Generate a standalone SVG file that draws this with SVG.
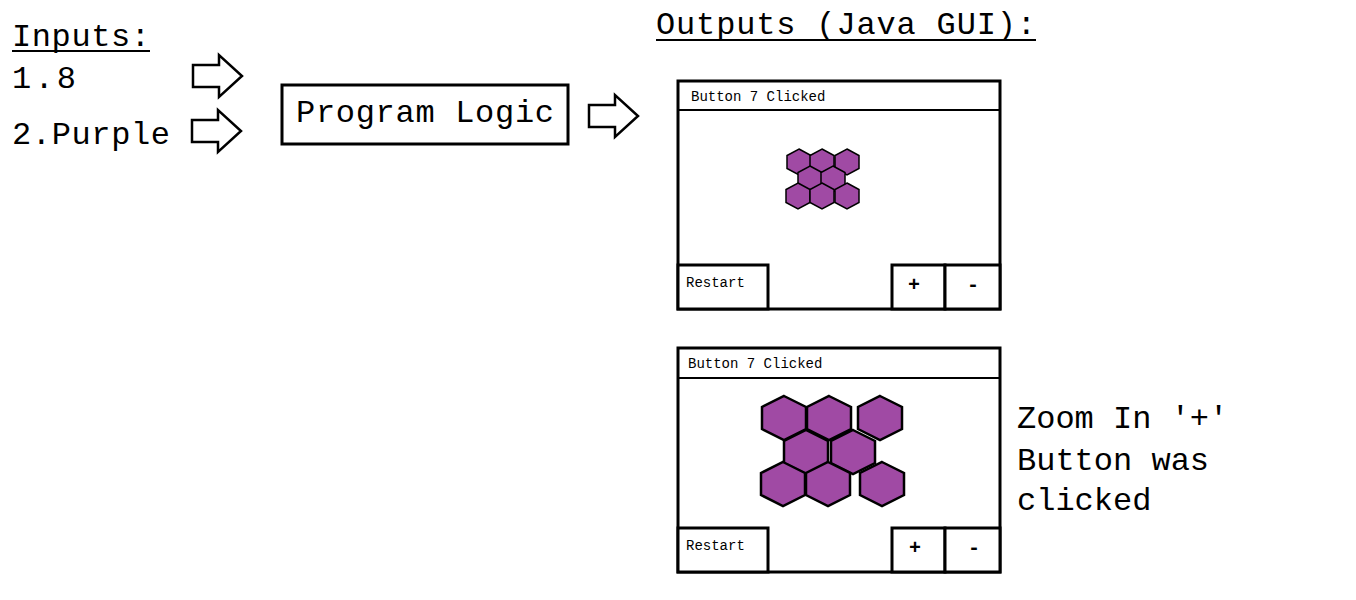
<svg xmlns="http://www.w3.org/2000/svg" width="1356" height="600" viewBox="0 0 1356 600">
<style>
text{font-family:"Liberation Mono","DejaVu Sans Mono",monospace;fill:#000}
.big{font-size:32px}
.sm{font-size:14px}
.box{fill:#fff;stroke:#000;stroke-width:3}
.arr{fill:#fff;stroke:#000;stroke-width:2.5;stroke-linejoin:miter}
.hex{fill:#a04aa4;stroke:#000;stroke-width:1.5}
.hexb{fill:#a04aa4;stroke:#000;stroke-width:2.5}
.ul{stroke:#000;stroke-width:2}
.btn{font-size:20px;font-weight:bold}
</style>
<defs>
<path id="h1" class="hex" d="M0,-13 L12,-6.5 L12,6.5 L0,13 L-12,6.5 L-12,-6.5Z"/>
<path id="h2" class="hexb" d="M0,-22 L22,-11 L22,11 L0,22 L-22,11 L-22,-11Z"/>
<path id="arrow" class="arr" d="M0,-11 L26,-11 L26,-21 L49,0 L26,21 L26,11 L0,11Z"/>
</defs>
<g id="inputs">
<text class="big" x="12" y="46" textLength="138">Inputs:</text>
<line class="ul" x1="12" y1="51" x2="150" y2="51"/>
<text class="big" x="12" y="88" textLength="64">1.8</text>
<text class="big" x="12" y="144" textLength="158">2.Purple</text>
</g>
<g id="connectors">
<use href="#arrow" x="193" y="76"/>
<use href="#arrow" x="192" y="131"/>
<use href="#arrow" x="589" y="116"/>
</g>
<g id="logic">
<rect class="box" x="282" y="85" width="286" height="59"/>
<text class="big" x="296" y="122" textLength="258">Program Logic</text>
</g>
<g id="outputs-title">
<text class="big" x="656" y="34" textLength="380">Outputs (Java GUI):</text>
<line class="ul" x1="656" y1="40" x2="1036" y2="40"/>
</g>
<g id="window1">
<rect class="box" x="678" y="81" width="322" height="228"/>
<line class="ul" stroke-width="3" x1="678" y1="110" x2="1000" y2="110"/>
<text class="sm" x="691" y="101">Button 7 Clicked</text>
<use href="#h1" x="799" y="162"/><use href="#h1" x="822" y="162"/><use href="#h1" x="847" y="162"/>
<use href="#h1" x="810" y="179"/><use href="#h1" x="833" y="179"/>
<use href="#h1" x="798" y="196"/><use href="#h1" x="822" y="196"/><use href="#h1" x="847" y="196"/>
<rect class="box" x="678" y="265" width="90" height="44"/>
<text class="sm" x="686" y="287">Restart</text>
<rect class="box" x="892" y="265" width="53" height="44"/>
<rect class="box" x="945" y="265" width="55" height="44"/>
<text class="btn" x="914" y="291" text-anchor="middle">+</text>
<text class="btn" x="973" y="291" text-anchor="middle">-</text>
</g>
<g id="window2">
<rect class="box" x="678" y="348" width="322" height="224"/>
<line class="ul" stroke-width="3" x1="678" y1="378" x2="1000" y2="378"/>
<text class="sm" x="688" y="368">Button 7 Clicked</text>
<use href="#h2" x="784" y="418"/><use href="#h2" x="829" y="418"/><use href="#h2" x="880" y="418"/>
<use href="#h2" x="806" y="452"/><use href="#h2" x="853" y="452"/>
<use href="#h2" x="783" y="484"/><use href="#h2" x="828" y="484"/><use href="#h2" x="882" y="484"/>
<rect class="box" x="678" y="528" width="90" height="44"/>
<text class="sm" x="686" y="550">Restart</text>
<rect class="box" x="892" y="528" width="53" height="44"/>
<rect class="box" x="945" y="528" width="55" height="44"/>
<text class="btn" x="915" y="554" text-anchor="middle">+</text>
<text class="btn" x="974" y="554" text-anchor="middle">-</text>
</g>
<g id="note">
<text class="big" x="1017" y="428">Zoom In '+'</text>
<text class="big" x="1017" y="470">Button was</text>
<text class="big" x="1017" y="510">clicked</text>
</g>
</svg>
